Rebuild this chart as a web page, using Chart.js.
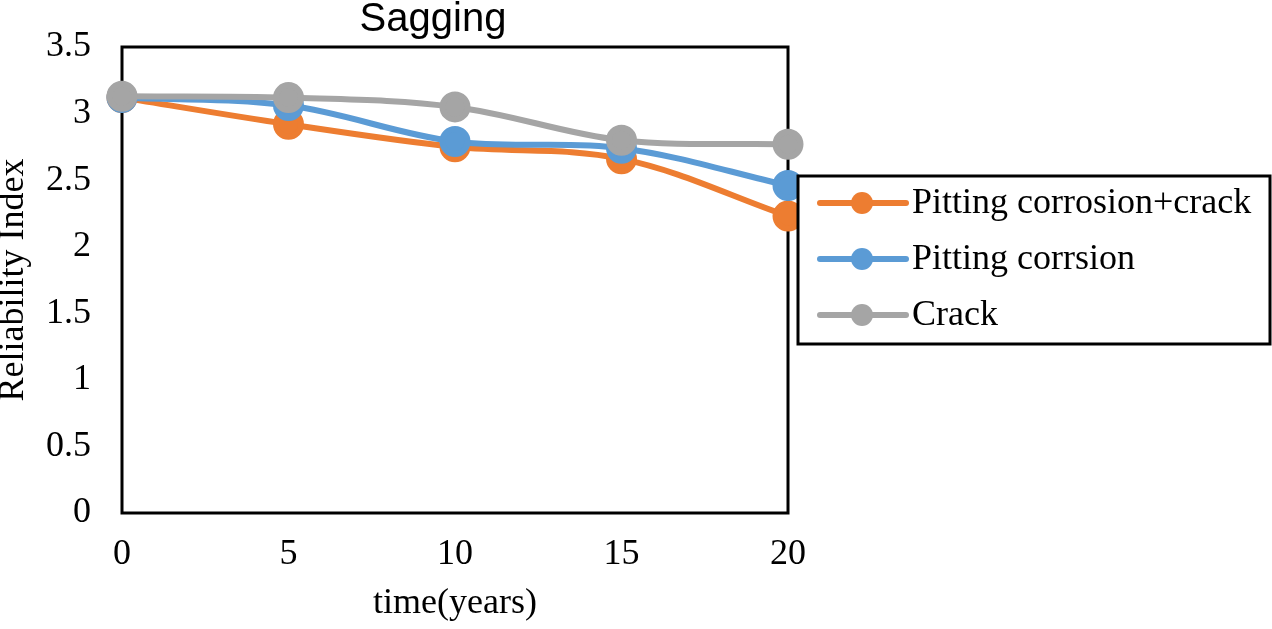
<!DOCTYPE html>
<html>
<head>
<meta charset="utf-8">
<script src="https://cdn.jsdelivr.net/npm/chart.js@4.4.1/dist/chart.umd.min.js"></script>
<style>
html,body{margin:0;padding:0;background:#fff;}
#wrap{width:1272px;height:629px;}
</style>
</head>
<body>
<div id="wrap"><canvas id="c" width="1272" height="629"></canvas></div>
<script>
const years = [0, 5, 10, 15, 20];
const pittingCrack = [3.12, 2.92, 2.75, 2.66, 2.23];
const pitting = [3.12, 3.06, 2.79, 2.74, 2.46];
const crack = [3.13, 3.12, 3.05, 2.80, 2.77];
const seriesNames = ['Pitting corrosion+crack', 'Pitting corrsion', 'Crack'];
const seriesColors = ['#ED7D31', '#5B9BD5', '#A5A5A5'];
const titleText = 'Sagging';
const xTitle = 'time(years)';
const yTitle = 'Reliability Index';

const SERIF = '"Liberation Serif", "Times New Roman", serif';
const SANS = '"Liberation Sans", Arial, sans-serif';

function pts(vals){ return years.map((x,i)=>({x:x, y:vals[i]})); }
const seriesVals = [pittingCrack, pitting, crack];

const datasets = seriesVals.map((v,i)=>({
  label: seriesNames[i],
  data: pts(v),
  borderColor: seriesColors[i],
  backgroundColor: seriesColors[i],
  pointBackgroundColor: seriesColors[i],
  pointBorderColor: seriesColors[i],
  borderWidth: 6,
  pointRadius: 12.5,
  pointHoverRadius: 12.5,
  tension: 0.35,
  clip: false,
  order: 3 - i
}));

const frame = {
  id: 'frame',
  beforeDatasetsDraw(chart){
    const a = chart.chartArea, ctx = chart.ctx;
    ctx.save();
    ctx.strokeStyle = '#000'; ctx.lineWidth = 3;
    ctx.strokeRect(a.left, a.top, a.right - a.left, a.bottom - a.top);
    ctx.restore();
  },
  afterDraw(chart){
    const ctx = chart.ctx;
    ctx.save();
    ctx.fillStyle = '#000';
    ctx.font = '40px ' + SANS;
    ctx.textAlign = 'center'; ctx.textBaseline = 'alphabetic';
    ctx.fillText(titleText, 433, 31);
    const lx = 798, ly = 176, lw = 472, lh = 168;
    ctx.lineWidth = 3; ctx.strokeStyle = '#000';
    ctx.fillStyle = '#fff';
    ctx.fillRect(lx, ly, lw, lh);
    ctx.strokeRect(lx, ly, lw, lh);
    const rows = [203, 259, 315];
    chart.data.datasets.forEach((ds, i) => {
      const y = rows[i];
      ctx.strokeStyle = ds.borderColor; ctx.lineWidth = 6; ctx.lineCap = 'round';
      ctx.beginPath(); ctx.moveTo(820, y); ctx.lineTo(906, y); ctx.stroke();
      ctx.fillStyle = ds.borderColor;
      ctx.beginPath(); ctx.arc(862, y, 11, 0, Math.PI*2); ctx.fill();
      ctx.fillStyle = '#000';
      ctx.font = '36px ' + SERIF;
      ctx.textAlign = 'left'; ctx.textBaseline = 'middle';
      ctx.fillText(ds.label, 912, y + 1);
    });
    ctx.restore();
  }
};

new Chart(document.getElementById('c'), {
  type: 'line',
  data: { datasets: datasets },
  options: {
    responsive: false,
    animation: false,
    events: [],
    layout: { padding: { left: 0, top: 47, right: 1272 - 788, bottom: 0 } },
    plugins: { legend: { display: false }, title: { display: false }, tooltip: { enabled: false } },
    scales: {
      x: {
        type: 'linear', min: 0, max: 20,
        ticks: { stepSize: 5, color: '#000', font: { family: SERIF, size: 36 }, padding: 20, maxRotation: 0 },
        grid: { display: false, drawTicks: false },
        border: { display: false },
        title: { display: true, text: xTitle, color: '#000', font: { family: SERIF, size: 36 }, padding: { top: 8 } },
        afterFit(s){ s.height = 629 - 513; s.paddingLeft = 0; s.paddingRight = 0; }
      },
      y: {
        min: 0, max: 3.5,
        ticks: { stepSize: 0.5, color: '#000', font: { family: SERIF, size: 36 }, padding: 31,
                 callback: (v) => String(v) },
        grid: { display: false, drawTicks: false },
        border: { display: false },
        title: { display: true, text: yTitle, color: '#000', font: { family: SERIF, size: 36 }, padding: { top: -8, bottom: 0 } },
        afterFit(s){ s.width = 122; s.paddingTop = 0; s.paddingBottom = 0; }
      }
    }
  },
  plugins: [frame]
});
</script>
</body>
</html>
